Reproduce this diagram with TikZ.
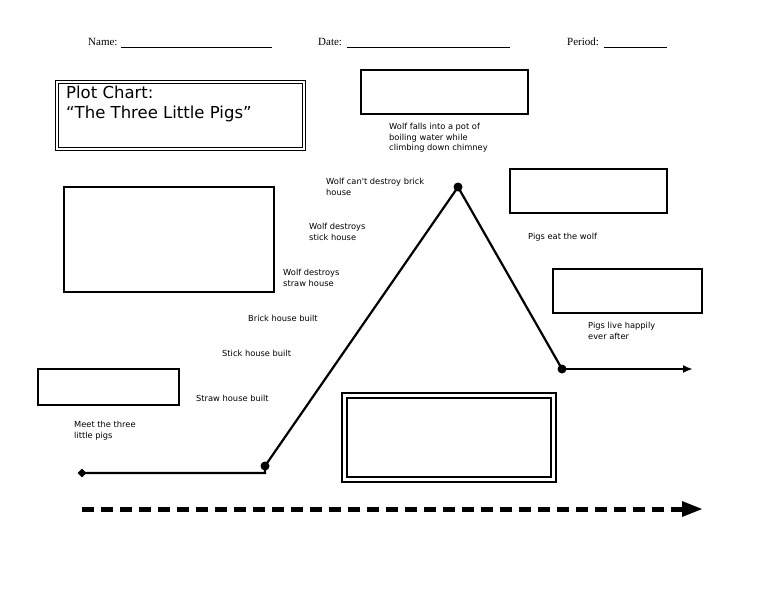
\documentclass[tikz,border=0pt]{standalone}
\usepackage{fontspec}
\usetikzlibrary{arrows.meta,shapes.geometric}
\setmainfont{Liberation Serif}
\newfontfamily\djsans{DejaVu Sans}
\begin{document}
\begin{tikzpicture}[x=1pt,y=-1pt,
  lbl/.style={font=\djsans\fontsize{8.3}{10.5}\selectfont,anchor=north west,align=left,inner sep=0pt},
  hdr/.style={font=\fontsize{11}{13}\selectfont,anchor=base west,inner sep=0pt},
  box/.style={draw,line width=1.4pt},
  dot/.style={circle,fill,inner sep=0pt,minimum size=9pt}]
\useasboundingbox (0,0) rectangle (768,594);
\node[hdr] (n) at (88,46) {Name:};
\draw (121,47) -- (272,47);
\node[hdr] (d) at (318,46) {Date:};
\draw (347,47) -- (510,47);
\node[hdr] (p) at (567,46) {Period:};
\draw (604,47) -- (667,47);
\draw[line width=1pt] (55,80) rectangle (305,150);
\draw[line width=1pt] (58,83) rectangle (302,147);
\node[font=\djsans\fontsize{16.5}{20}\selectfont,anchor=north west,align=left,inner sep=0pt] (t) at (66,86) {Plot Chart:\\“The Three Little Pigs”};
\draw[box] (361,70) rectangle (528,114);
\draw[box] (64,187) rectangle (274,292);
\draw[box] (510,169) rectangle (667,213);
\draw[box] (553,269) rectangle (702,313);
\draw[box] (38,369) rectangle (179,405);
\draw[box] (342,393) rectangle (556,482);
\draw[box] (347,398) rectangle (551,477);
\node[lbl] at (389,123) {Wolf falls into a pot of\\boiling water while\\climbing down chimney};
\node[lbl] at (326,178) {Wolf can't destroy brick\\house};
\node[lbl] at (309,223) {Wolf destroys\\stick house};
\node[lbl] at (283,269) {Wolf destroys\\straw house};
\node[lbl] at (248,315) {Brick house built};
\node[lbl] at (222,350) {Stick house built};
\node[lbl] at (196,395) {Straw house built};
\node[lbl] at (74,421) {Meet the three\\little pigs};
\node[lbl] at (528,233) {Pigs eat the wolf};
\node[lbl] at (588,322) {Pigs live happily\\ever after};
\node[diamond,fill,inner sep=0pt,minimum size=9pt] (a) at (82,473) {};
\coordinate (b0) at (265,473);
\node[dot] (b) at (265,466) {};
\node[dot] (c) at (458,187) {};
\node[dot] (e) at (562,369) {};
\coordinate (f) at (693,369);
\draw[line width=2.2pt] (a.center) -- (b0) -- (b.center) -- (c.center) -- (e.center);
\draw[line width=2.2pt,-{Latex[length=10pt,width=8pt]}] (e.center) -- (f);
\coordinate (g) at (82,509);
\draw[line width=5pt,dash pattern=on 12pt off 7pt] (g) -- (682,509);
\fill (682,501) -- (702,509) -- (682,517) -- cycle;
\end{tikzpicture}
\end{document}
